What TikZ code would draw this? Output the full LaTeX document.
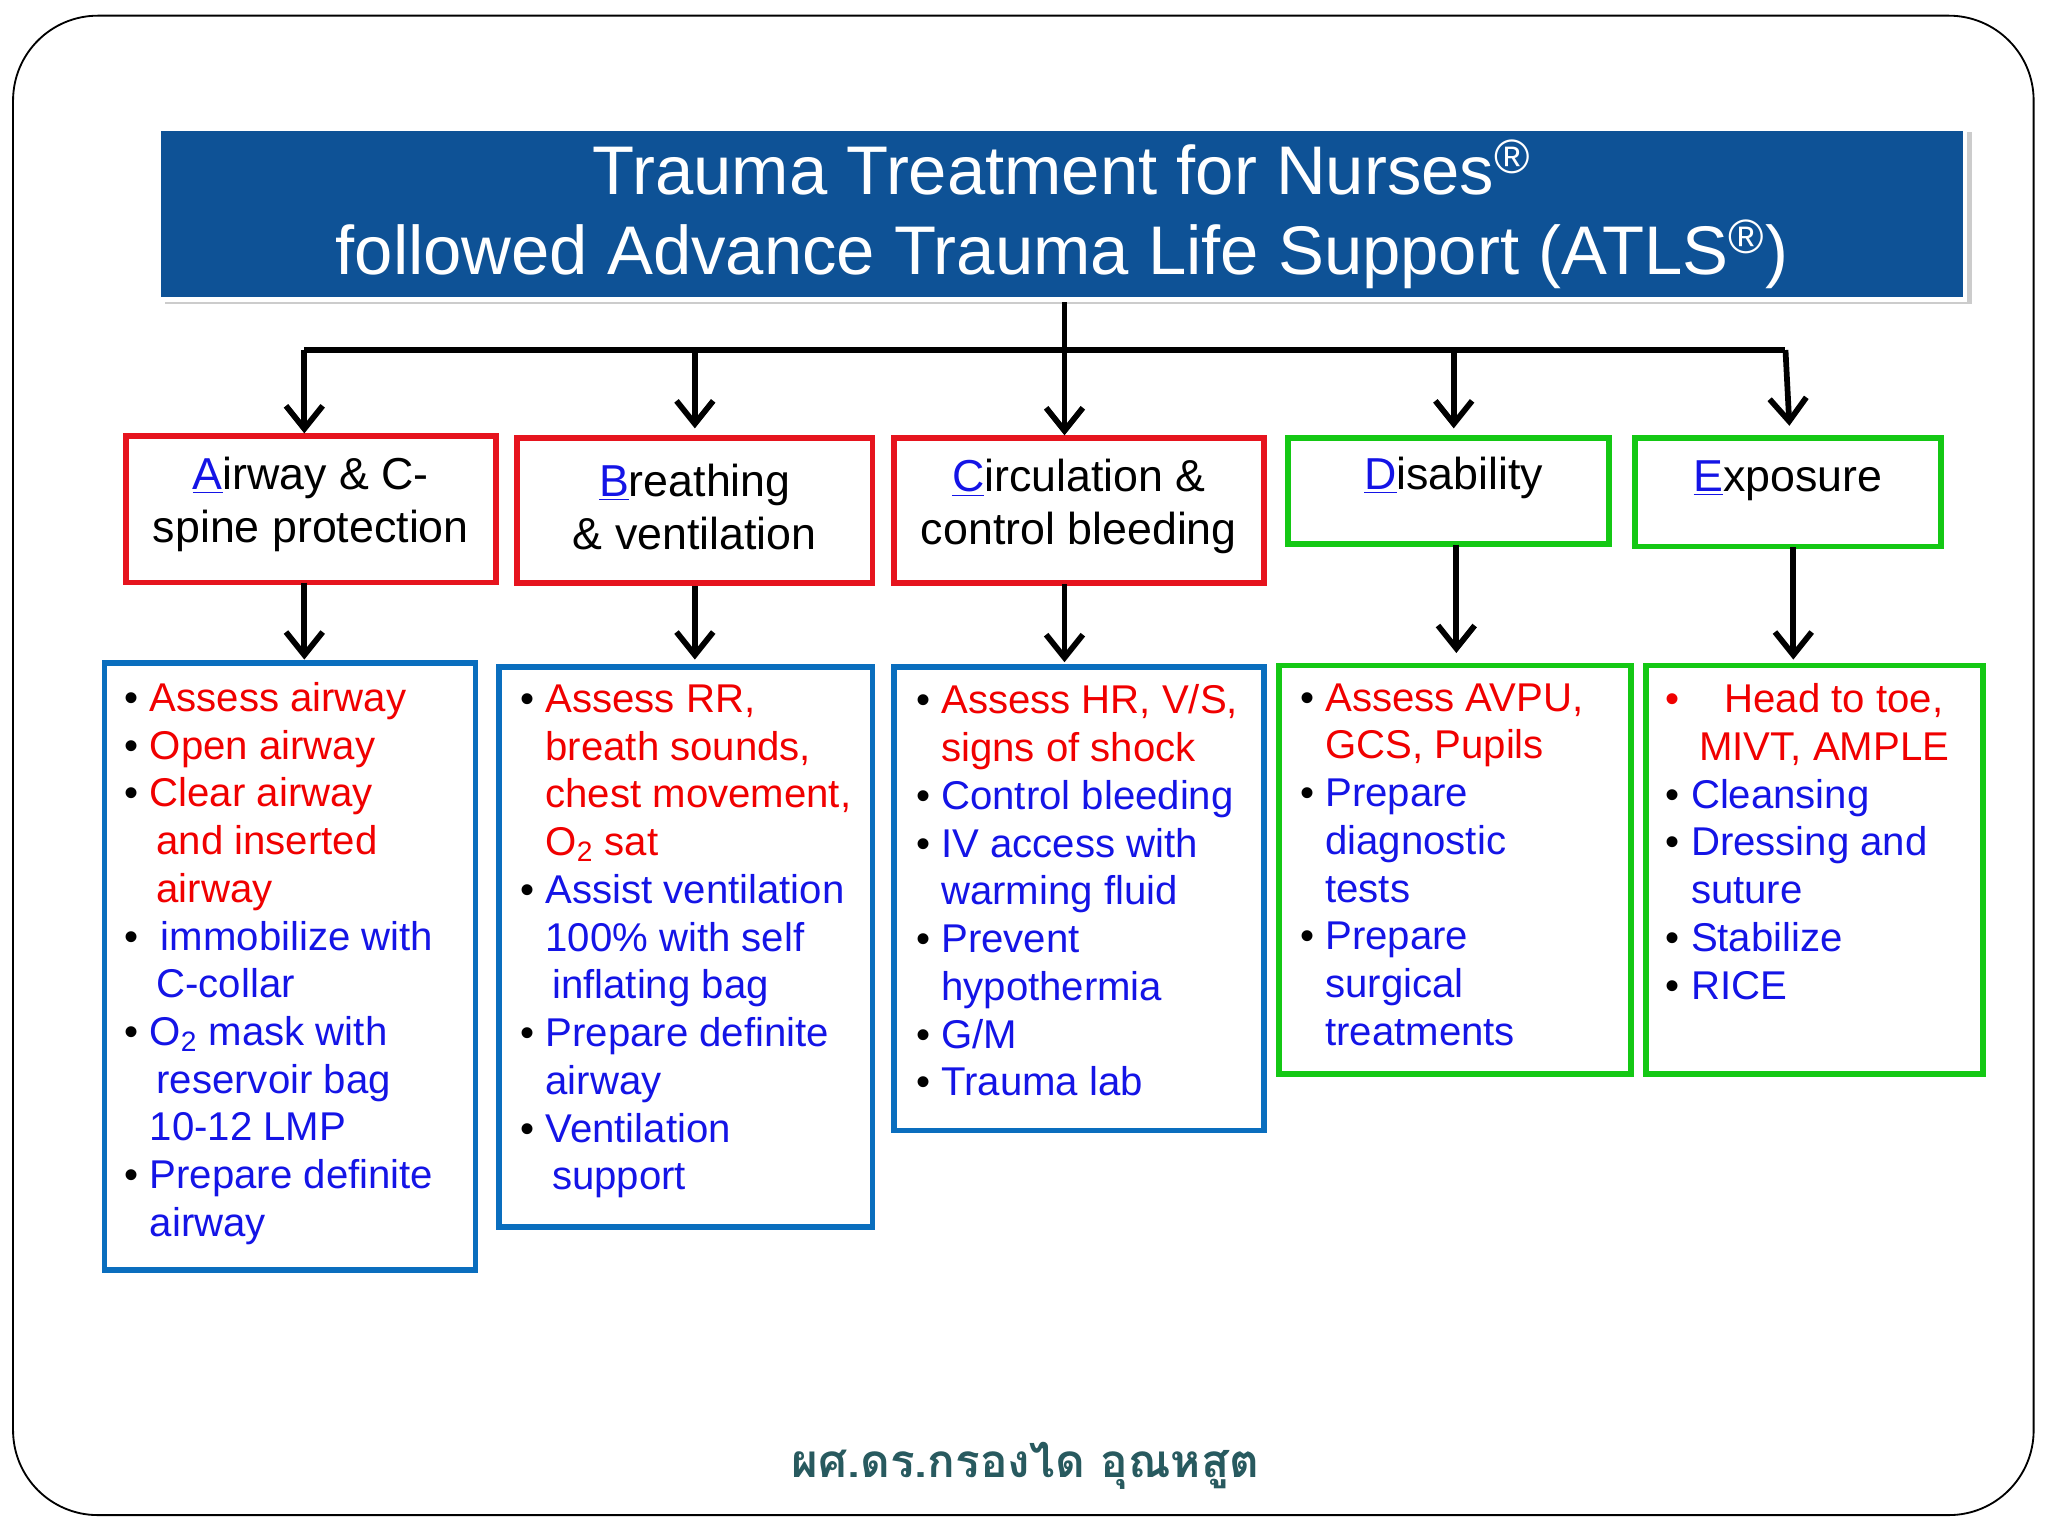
\documentclass[tikz,border=0pt]{standalone}
\usepackage{fontspec}
\setmainfont{Liberation Sans}
\newfontfamily\thaifont[Script=Thai]{Loma}
\usetikzlibrary{positioning,arrows.meta}
\definecolor{hdrblue}{RGB}{14,82,150}
\definecolor{boxred}{RGB}{230,20,30}
\definecolor{boxgreen}{RGB}{20,200,20}
\definecolor{boxblue}{RGB}{10,110,190}
\definecolor{txtred}{RGB}{240,0,0}
\definecolor{txtblue}{RGB}{20,20,230}
\definecolor{thaicol}{RGB}{40,90,95}
\newcommand{\itm}[2]{\textcolor{black}{\textbullet}\ \textcolor{#1}{#2}}
\newcommand{\cnt}[2]{\phantom{\textbullet\ }\textcolor{#1}{#2}}
\newcommand{\ul}[1]{\textcolor{txtblue}{\underline{#1}}}
\begin{document}
\begin{tikzpicture}[x=0.02cm,y=-0.02cm,
    topbox/.style={draw, line width=2.5pt, inner sep=0pt},
    listbox/.style={draw=boxblue, line width=2.5pt, inner sep=0pt},
    headtxt/.style={font=\fontsize{19.5}{23}\selectfont, align=center},
    listtxt/.style={font=\fontsize{17.5}{20.8}\selectfont, align=left, anchor=north west, inner sep=0pt},
    arr/.style={-{Straight Barb[length=10pt,width=16pt,line width=2.5pt]}, line width=2.5pt},
  ]
  \useasboundingbox (0,0) rectangle (1568,1168);
  \draw[line width=0.8pt, rounded corners=1.3cm] (10,12) rectangle (1557,1160);
  %Header
  \fill[gray!40] (126,101) rectangle (1510,233);
  \node[fill=hdrblue, draw=white, line width=2pt, minimum width=1383*0.02cm, minimum height=131*0.02cm,
        text=white, font=\fontsize{30}{35}\selectfont, align=center] (title) at (813,164)
    {Trauma Treatment for Nurses\textsuperscript{\textregistered}\\followed Advance Trauma Life Support (ATLS\textsuperscript{\textregistered})};
  %Top boxes
  \node[topbox, draw=boxred, minimum width=283*0.02cm, minimum height=112*0.02cm] (airway) at (238,390) {};
  \node[topbox, draw=boxred, minimum width=272*0.02cm, minimum height=111*0.02cm] (breath) at (532,391) {};
  \node[topbox, draw=boxred, minimum width=283*0.02cm, minimum height=111*0.02cm] (circ) at (826,391) {};
  \node[topbox, draw=boxgreen, minimum width=246*0.02cm, minimum height=81*0.02cm] (disab) at (1109,376) {};
  \node[topbox, draw=boxgreen, minimum width=234*0.02cm, minimum height=83*0.02cm] (expo) at (1369,377) {};
  \node[headtxt] at (238,386) {\ul{A}irway \& C-\\spine protection};
  \node[headtxt] at (532,388) {\ul{B}reathing\\\& ventilation};
  \node[headtxt] at (826,388) {\ul{C}irculation \&\\control bleeding};
  \node[headtxt] at (1113,366) {\ul{D}isability};
  \node[headtxt] at (1369,368) {\ul{E}xposure};
  %Detail boxes
  \node[listbox, minimum width=284*0.02cm, minimum height=465*0.02cm] (lA) at (222,740) {};
  \node[listbox, minimum width=286*0.02cm, minimum height=429*0.02cm] (lB) at (525,725) {};
  \node[listbox, minimum width=283*0.02cm, minimum height=355*0.02cm] (lC) at (826,688) {};
  \node[listbox, draw=boxgreen, minimum width=269*0.02cm, minimum height=313*0.02cm] (lD) at (1114,666) {};
  \node[listbox, draw=boxgreen, minimum width=258*0.02cm, minimum height=313*0.02cm] (lE) at (1389,666) {};
  \node[listtxt] at (95,522) {\itm{txtred}{Assess airway}\\\itm{txtred}{Open airway}\\\itm{txtred}{Clear airway}\\\cnt{txtred}{\,and inserted}\\\cnt{txtred}{\,airway}\\\itm{txtblue}{\ immobilize with}\\\cnt{txtblue}{\,C-collar}\\\itm{txtblue}{O\textsubscript{2} mask with}\\\cnt{txtblue}{\,reservoir bag}\\\cnt{txtblue}{10-12 LMP}\\\itm{txtblue}{Prepare definite}\\\cnt{txtblue}{airway}};
  \node[listtxt] at (398,524) {\itm{txtred}{Assess RR,}\\\cnt{txtred}{breath sounds,}\\\cnt{txtred}{chest movement,}\\\cnt{txtred}{O\textsubscript{2} sat}\\\itm{txtblue}{Assist ventilation}\\\cnt{txtblue}{100\% with self}\\\cnt{txtblue}{\,inflating bag}\\\itm{txtblue}{Prepare definite}\\\cnt{txtblue}{airway}\\\itm{txtblue}{Ventilation}\\\cnt{txtblue}{\,support}};
  \node[listtxt] at (701,524) {\itm{txtred}{Assess HR, V/S,}\\\cnt{txtred}{signs of shock}\\\itm{txtblue}{Control bleeding}\\\itm{txtblue}{IV access with}\\\cnt{txtblue}{warming fluid}\\\itm{txtblue}{Prevent}\\\cnt{txtblue}{hypothermia}\\\itm{txtblue}{G/M}\\\itm{txtblue}{Trauma lab}};
  \node[listtxt] at (995,523) {\itm{txtred}{Assess AVPU,}\\\cnt{txtred}{GCS, Pupils}\\\itm{txtblue}{Prepare}\\\cnt{txtblue}{diagnostic}\\\cnt{txtblue}{tests}\\\itm{txtblue}{Prepare}\\\cnt{txtblue}{surgical}\\\cnt{txtblue}{treatments}};
  \node[listtxt] at (1275,523) {\textcolor{txtred}{\textbullet\ \ \ \ Head to toe,}\\\textcolor{txtred}{\ \ \ MIVT, AMPLE}\\\itm{txtblue}{Cleansing}\\\itm{txtblue}{Dressing and}\\\cnt{txtblue}{suture}\\\itm{txtblue}{Stabilize}\\\itm{txtblue}{RICE}};
  %Connectors
  \coordinate (hub) at (815,268);
  \coordinate (hl) at (233,268);
  \coordinate (hr) at (1367,268);
  \draw[line width=2.5pt] (title.south -| hub) -- (hub);
  \draw[line width=2.5pt] (hl) -- (hr);
  \draw[arr] (hl) -- (hl |- airway.north);
  \draw[arr] (532,268) -- (532,328);
  \draw[arr] (hub) -- (hub |- circ.north);
  \draw[arr] (1113,268) -- (1113,328);
  \draw[arr] (hr) -- (1370,326);
  \draw[arr] (233,446) -- (233,505);
  \draw[arr] (breath.south) -- (532,505);
  \draw[arr] (815,447) -- (815,507);
  \draw[arr] (1115,417) -- (1115,500);
  \draw[arr] (1373,419) -- (1373,505);
  %Footer
  \node[text=thaicol, font=\thaifont\bfseries\fontsize{20}{24}\selectfont] (author) at (785,1122) {ผศ.ดร.กรองได อุณหสูต};
\end{tikzpicture}
\end{document}
